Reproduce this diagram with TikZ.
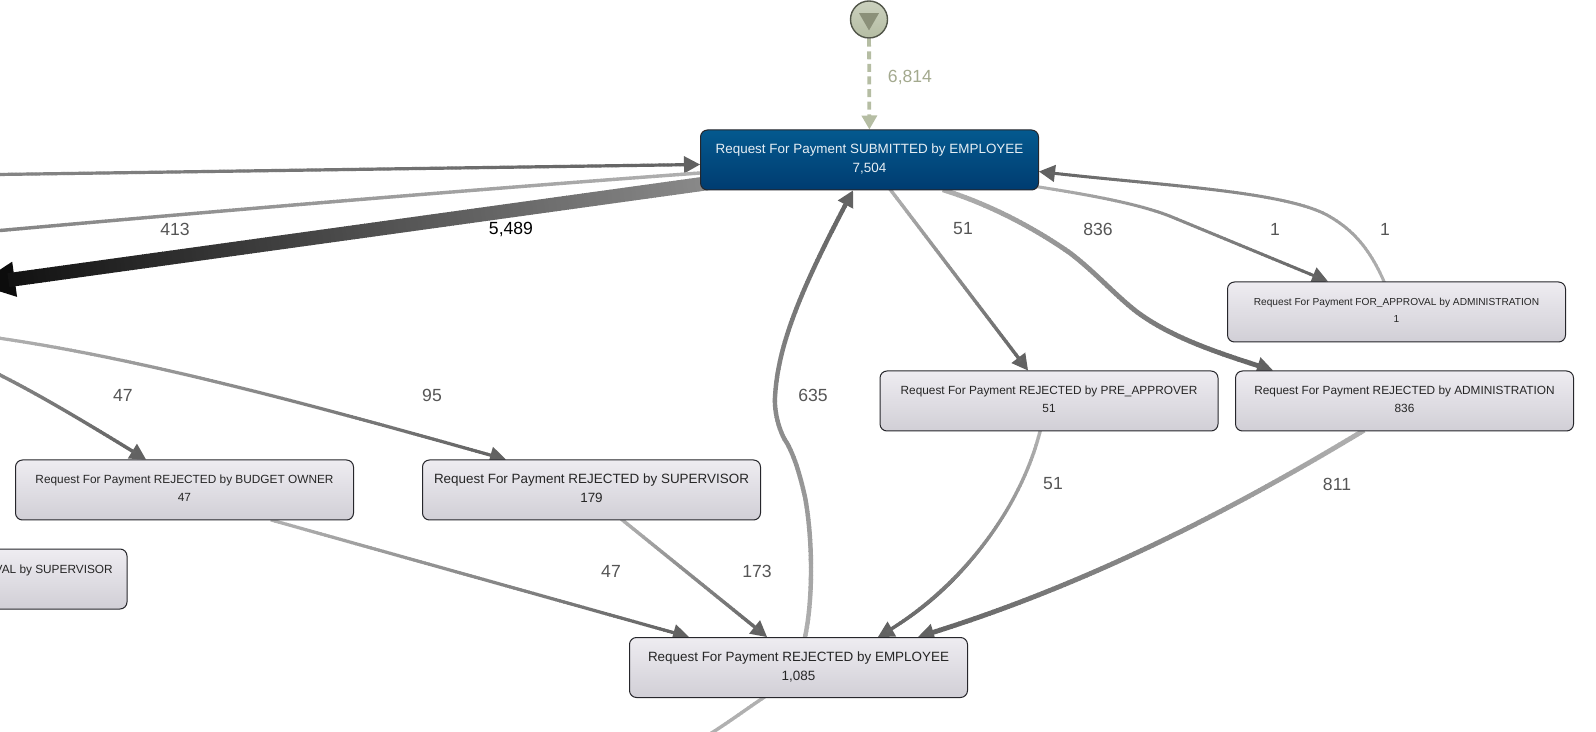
\documentclass[tikz,border=0pt]{standalone}
\usepackage{fontspec}
\setmainfont{Liberation Sans}
\usetikzlibrary{arrows.meta, backgrounds, decorations.markings, shapes.geometric}

\definecolor{blockline}{HTML}{26262B}
\definecolor{blocktop}{HTML}{EEECF1}
\definecolor{blockbot}{HTML}{D1CFD6}
\definecolor{hitop}{HTML}{04598F}
\definecolor{hibot}{HTML}{003C70}
\definecolor{startgreen}{HTML}{B5BDA3}
\definecolor{startlabel}{HTML}{A3A98E}
\definecolor{startmark}{HTML}{8B9079}
\definecolor{flowdark}{HTML}{626262}
\definecolor{flowmid}{HTML}{858585}
\definecolor{flowlight}{HTML}{B0B0B0}
\definecolor{bigfrom}{HTML}{8C8C8C}
\definecolor{bigto}{HTML}{0C0C0C}
\definecolor{countgray}{HTML}{555555}

\begin{document}
\begin{tikzpicture}[x=0.5pt, y=-0.5pt, >={Triangle[length=8pt,width=8.5pt]}]
    % Define block styles
    \tikzstyle{block} = [draw=blockline, line width=0.5pt, rectangle, rounded corners=3.5pt, top color=blocktop, bottom color=blockbot, text=black!85, minimum height=30pt, minimum width=169pt, inner sep=0pt, align=center]
    \tikzstyle{hiblock} = [block, top color=hitop, bottom color=hibot, text=white!90!hitop]
    \tikzstyle{bigfont} = [font=\fontsize{6.72}{9.5}\selectfont, text depth=1.4pt]
    \tikzstyle{midfont} = [font=\fontsize{5.92}{9}\selectfont, text depth=1.4pt]
    \tikzstyle{smallfont} = [font=\fontsize{5.08}{8.3}\selectfont, text depth=1.4pt]
    \tikzstyle{start} = [draw=black!55!startgreen, line width=0.7pt, circle, top color=startgreen!70!white, bottom color=startgreen, minimum size=18.5pt, inner sep=0pt]
    \tikzstyle{startarrow} = [regular polygon, regular polygon sides=3, shape border rotate=180, fill=startmark, minimum size=11.5pt, inner sep=0pt]
    \tikzstyle{count} = [font=\fontsize{8.8}{10}\selectfont, text=countgray, inner sep=0pt]
    \tikzstyle{input} = [coordinate]
    % flow: from colour, to colour, width, length of the tip
    \tikzset{flow/.style n args={4}{line width=0.5*#3, draw=#2, postaction={decorate},
        decoration={markings, mark=between positions 0 and -#4 step 2pt with {
            \pgfmathsetmacro\flowmix{100*(\pgfkeysvalueof{/pgf/decoration/mark info/distance from start}/\pgfdecoratedpathlength)}
            \fill [#2!\flowmix!#1] (-1.2pt,-#3/2) rectangle (1.2pt,#3/2);
        }}}}

    \useasboundingbox (0,0) rectangle (1596,732);

    % Nodes
    \node [start] (start) at (869,19.5) {};
    \node [startarrow, yshift=0.3pt] (startmark) at (start) {};
    \node [hiblock, bigfont, below of=start, node distance=70.25pt, xshift=0.25pt] (submit) {Request For Payment SUBMITTED by EMPLOYEE\\7,504};
    \node [block, midfont, below of=submit, node distance=120.5pt, xshift=89.75pt] (preapp) {Request For Payment REJECTED by PRE\_APPROVER\\51};
    \node [block, midfont, right of=preapp, node distance=177.75pt] (rejadm) {Request For Payment REJECTED by ADMINISTRATION\\836};
    \node [block, smallfont, above of=rejadm, node distance=44.5pt, xshift=-4pt] (forapp) {Request For Payment FOR\_APPROVAL by ADMINISTRATION\\1};
    \node [block, bigfont, below of=submit, node distance=253.75pt, xshift=-35.5pt] (rejemp) {Request For Payment REJECTED by EMPLOYEE\\1,085};
    \node [block, bigfont, above of=rejemp, node distance=88.75pt, xshift=-103.5pt] (superv) {Request For Payment REJECTED by SUPERVISOR\\179};
    \node [block, midfont, left of=superv, node distance=203.5pt] (budget) {Request For Payment REJECTED by BUDGET OWNER\\47};
    \node [block, midfont, below of=budget, node distance=44.5pt, xshift=-113.25pt, text depth=10pt] (appsup) {Request For Payment FOR\_APPROVAL by SUPERVISOR};
    \node [input] (offtop) at (-2,174.5) {};
    \node [input] (offmid) at (-2,230.7) {};
    \node [input] (offbig) at (-23,284.5) {};
    \node [input] (offbudget) at (-2,374) {};
    \node [input] (offsuperv) at (-2,338) {};
    \node [input] (offbottom) at (705,737) {};

    % Connections
    \begin{pgfonlayer}{background}
    \draw [draw=startgreen, line width=1.9pt, dash pattern=on 4pt off 2.3pt, -{Triangle[length=7pt,width=7.5pt]}] (start) -- (submit);
    \draw [flow={flowmid}{flowdark}{1.6pt}{6pt}, ->] (offtop) -- ([yshift=-2.25pt]submit.west);
    \draw [flow={flowlight}{flowmid}{1.7pt}{1pt}] ([yshift=-6.5pt]submit.west) .. controls (480,189) and (240,209) .. (offmid);
    \draw [flow={bigfrom}{bigto}{7pt}{17pt}, -{Triangle[length=19pt,width=16.75pt]}] ([xshift=10pt,yshift=4.5pt]submit.south west) -- (offbig);
    \draw [flow={flowlight}{flowdark}{1.7pt}{6pt}, ->] ([xshift=10.75pt]submit.south) -- ([xshift=-10.5pt]preapp.north);
    \draw [flow={flowlight}{flowdark}{2.4pt}{6pt}, ->] ([xshift=37.75pt]submit.south) .. controls (985,203) and (1030,225) .. (1070,253) .. controls (1095,272) and (1115,295) .. (1137,312) .. controls (1175,340) and (1225,355) .. ([xshift=-65.75pt]rejadm.north);
    \draw [flow={flowlight}{flowdark}{1.5pt}{6pt}, ->] ([yshift=-13.5pt]submit.east) .. controls (1090,195) and (1140,204) .. (1172,217) -- ([xshift=-34.25pt]forapp.north);
    \draw [flow={flowlight}{flowdark}{1.5pt}{6pt}, ->] ([xshift=-6.25pt]forapp.north) .. controls (1368,245) and (1350,228) .. (1327,215) .. controls (1280,190) and (1150,185) .. ([yshift=-5.75pt]submit.east);
    \draw [flow={flowlight}{flowdark}{2.4pt}{6pt}, ->] ([xshift=-21.25pt]rejadm.south) .. controls (1240,505) and (1090,585) .. ([xshift=59.75pt]rejemp.north);
    \draw [flow={flowlight}{flowdark}{1.7pt}{6pt}, ->] ([xshift=-4.5pt]preapp.south) .. controls (1020,510) and (960,590) .. ([xshift=39.75pt]rejemp.north);
    \draw [flow={flowlight}{flowdark}{2.2pt}{6pt}, ->] ([xshift=3.25pt]rejemp.north) .. controls (813,600) and (813,540) .. (805,497) .. controls (800,475) and (795,458) .. (787,443) .. controls (781,435) and (774,415) .. (775,397) .. controls (778,345) and (800,290) .. ([xshift=-8.25pt]submit.south);
    \draw [flow={flowlight}{flowdark}{1.7pt}{6pt}, ->] ([xshift=15.75pt]superv.south) -- ([xshift=-15.75pt]rejemp.north);
    \draw [flow={flowlight}{flowdark}{1.6pt}{6pt}, ->] ([xshift=44.25pt]budget.south) -- ([xshift=-54.75pt]rejemp.north);
    \draw [flow={flowmid}{flowdark}{1.7pt}{6pt}, ->] (offbudget) .. controls (40,395) and (90,425) .. ([xshift=-19.25pt]budget.north);
    \draw [flow={flowlight}{flowdark}{1.6pt}{6pt}, ->] (offsuperv) .. controls (150,360) and (330,410) .. ([xshift=-42.75pt]superv.north);
    \draw [flow={flowlight}{flowlight}{1.7pt}{1pt}] ([xshift=-17.75pt]rejemp.south) .. controls (745,710) and (725,725) .. (offbottom);
    \end{pgfonlayer}

    % Labels
    \node [count, text=startlabel] (lstart) at (910,77) {6,814};
    \node [count] (lmid) at (175,229) {413};
    \node [count, text=black] (lbig) at (511,229) {5,489};
    \node [count] (lpre) at (963,229) {51};
    \node [count] (ladm) at (1098,229) {836};
    \node [count] (lfor) at (1275,229) {1};
    \node [count] (lback) at (1385,229) {1};
    \node [count] (lbudget) at (123,395) {47};
    \node [count] (lsuperv) at (432,395) {95};
    \node [count] (lresub) at (813,395) {635};
    \node [count] (lpreemp) at (1053,484) {51};
    \node [count] (ladmemp) at (1337,484) {811};
    \node [count] (lbudemp) at (611,571) {47};
    \node [count] (lsupemp) at (757,571) {173};
\end{tikzpicture}
\end{document}
